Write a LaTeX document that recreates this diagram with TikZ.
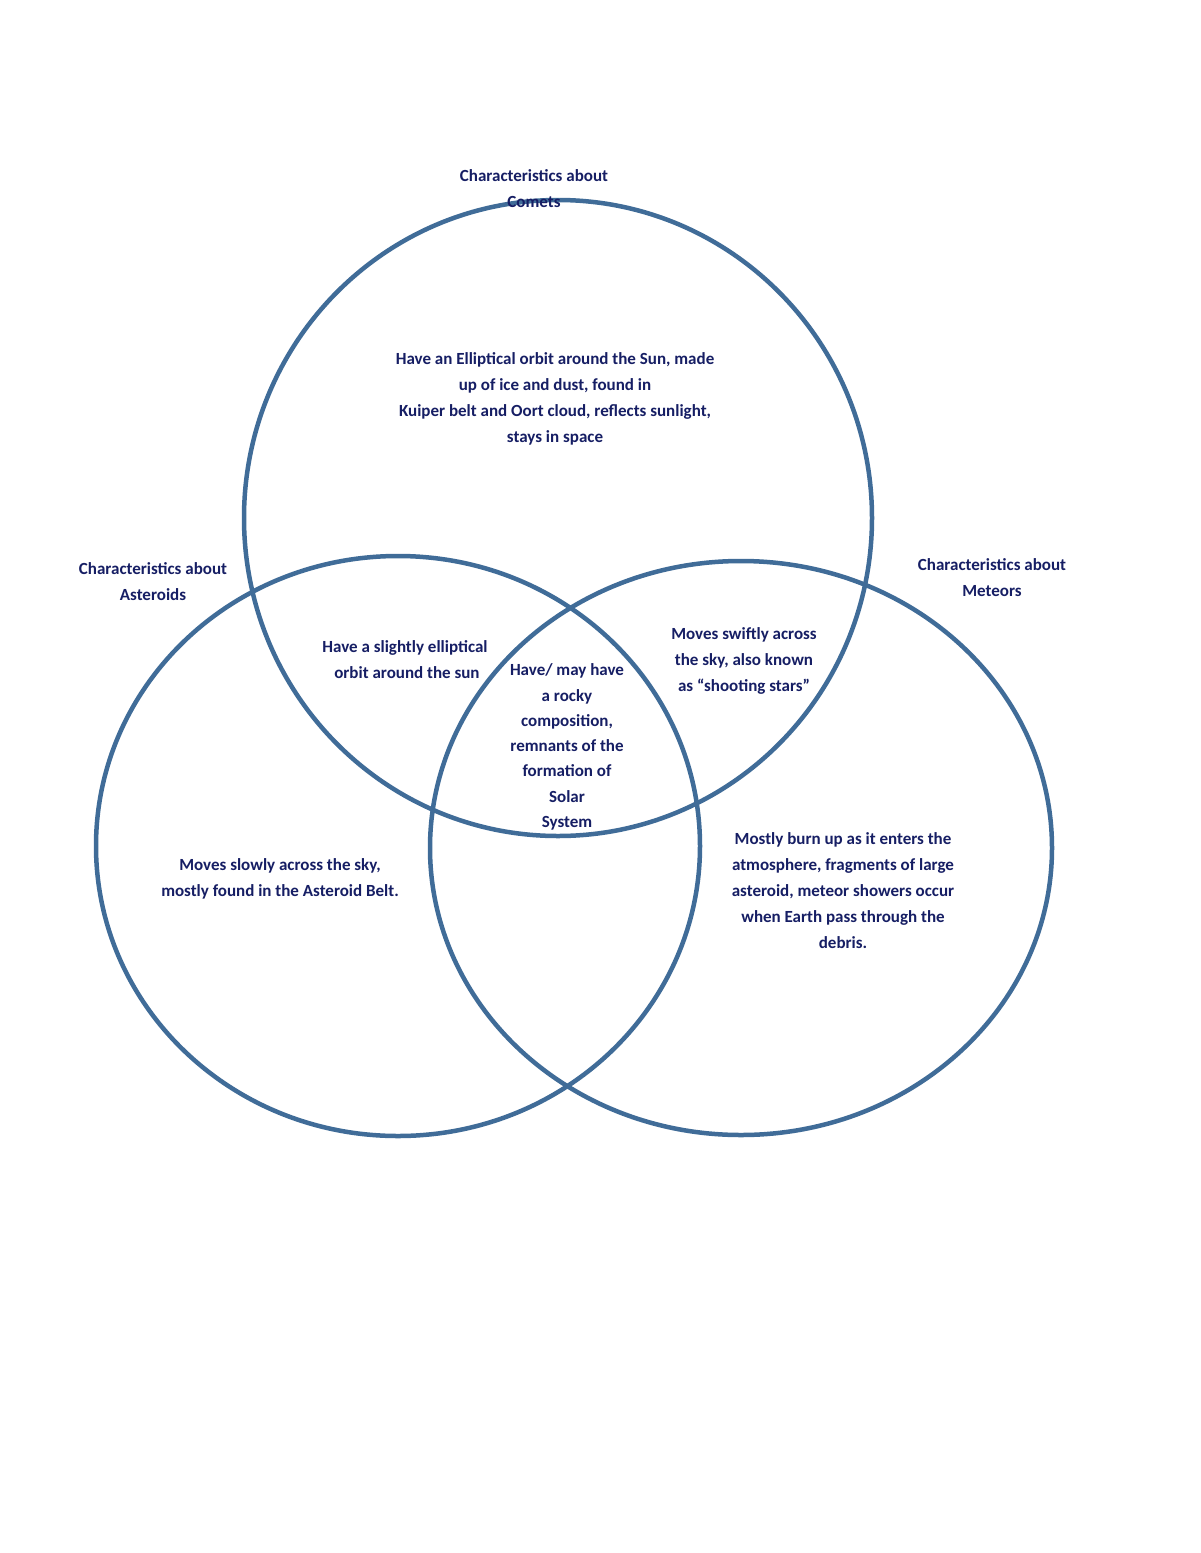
\documentclass[tikz,border=0pt]{standalone}
\usepackage{fontspec}
\setmainfont{Carlito}
\definecolor{ring}{RGB}{64,108,152}
\definecolor{txt}{RGB}{22,30,100}
\begin{document}
\begin{tikzpicture}[x=1pt,y=-1pt,
  ring/.style={draw=ring,line width=4.5pt},
  lab/.style={text=txt,font=\fontsize{17}{26}\selectfont\bfseries,align=center,inner sep=0pt}]
\useasboundingbox (0,0) rectangle (1200,1553);
\fill[white] (0,0) rectangle (1200,1553);
\draw[ring] (558,518) ellipse [x radius=314, y radius=318];
\draw[ring] (398,846) ellipse [x radius=302, y radius=290];
\draw[ring] (741,848) ellipse [x radius=311, y radius=287];
\node[lab] (tc) at (534,189) {Characteristics about\\Comets};
\node[lab] (ta) at (153,582) {Characteristics about\\Asteroids};
\node[lab] (tm) at (992,578) {Characteristics about\\Meteors};
\node[lab] (c) at (555,399) {Have an Elliptical orbit around the Sun, made\\up of ice and dust, found in\\Kuiper belt and Oort cloud, reflects sunlight,\\stays in space};
\node[lab] (ca) at (405,660) {Have a slightly elliptical\\\ orbit around the sun};
\node[lab] (cm) at (744,661) {Moves swiftly across\\the sky, also known\\as “shooting stars”};
\node[lab,font=\fontsize{17}{25.3}\selectfont\bfseries] (all) at (567,747) {Have/ may have\\a rocky\\composition,\\remnants of the\\formation of\\Solar\\System};
\node[lab] (a) at (280,879) {Moves slowly across the sky,\\mostly found in the Asteroid Belt.};
\node[lab] (m) at (843,891) {Mostly burn up as it enters the\\atmosphere, fragments of large\\asteroid, meteor showers occur\\when Earth pass through the\\debris.};
\end{tikzpicture}
\end{document}
